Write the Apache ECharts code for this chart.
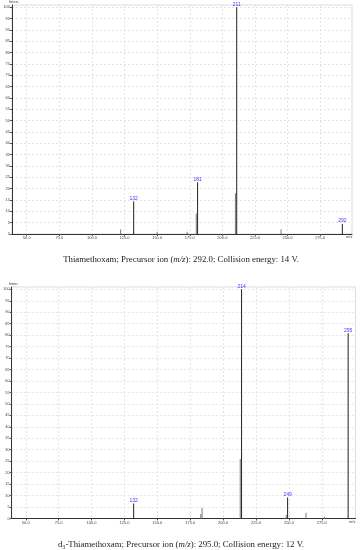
<!DOCTYPE html>
<html>
<head>
<meta charset="utf-8">
<script src="https://cdn.jsdelivr.net/npm/echarts@6/dist/echarts.min.js"></script>
<style>
html,body{margin:0;padding:0;background:#fff;}
#c{width:362px;height:550px;}
</style>
</head>
<body>
<div id="c"></div>
<script>
// Top spectrum: Thiamethoxam
const mzTop = [122, 132, 150, 173, 180, 181, 210, 211, 245, 292];
const intTop = [2, 14.3, 1, 1, 9, 22.8, 18, 100, 2, 4.4];
const labelTop = [132, 181, 211, 292];

// Bottom spectrum: d3-Thiamethoxam
const mzBot = [132, 183, 184, 213, 214, 248, 249, 263, 277, 295];
const intBot = [6.5, 2, 4.6, 26, 100, 1.5, 9.2, 2.5, 0.8, 80.8];
const labelBot = [132, 214, 249, 295];

const xTicks = [50, 75, 100, 125, 150, 175, 200, 225, 250, 275];
const yTicks = [0,5,10,15,20,25,30,35,40,45,50,55,60,65,70,75,80,85,90,95,100];

const captionTop = ['Thiamethoxam; Precursor ion (', 'm/z', '): 292.0; Collision energy: 14 V.'];
const captionBot = ['d₃-Thiamethoxam; Precursor ion (', 'm/z', '): 295.0; Collision energy: 12 V.'];

function buildData(mz, it, labs) {
  return mz.map((m, i) => ({
    value: [m, it[i]],
    label: { show: labs.indexOf(m) >= 0 },
    itemStyle: { color: labs.indexOf(m) >= 0 ? '#222' : '#777' }
  }));
}

const chart = echarts.init(document.getElementById('c'), null, {renderer: 'canvas'});

function xAxisCfg(gi, min, max) {
  return {
    type: 'value', gridIndex: gi, min: min, max: max,
    axisLine: { show: true, onZero: false, lineStyle: { color: '#333', width: 1 } },
    axisTick: { show: true, customValues: xTicks, length: 2, lineStyle: { color: '#555' } },
    axisLabel: { customValues: xTicks, fontSize: 4, color: '#444', margin: 2,
      formatter: v => v.toFixed(1) },
    splitLine: { show: true, lineStyle: { color: '#d4d4d4', type: [2, 2], width: 0.6 } }
  };
}
function yAxisCfg(gi) {
  return {
    type: 'value', gridIndex: gi, min: 0, max: 101,
    name: 'Inten.', nameLocation: 'end', nameGap: 1,
    nameTextStyle: { fontSize: 4, color: '#444', align: 'left', padding: [0,0,0,-3] },
    axisLine: { show: true, lineStyle: { color: '#333', width: 1 } },
    axisTick: { show: true, customValues: yTicks, length: 2, lineStyle: { color: '#555' } },
    axisLabel: { customValues: yTicks, fontSize: 4, color: '#444', margin: 2 },
    splitLine: { show: true, lineStyle: { color: '#d4d4d4', type: [2, 2], width: 0.6 } }
  };
}
function seriesCfg(gi, data) {
  return {
    type: 'bar', xAxisIndex: gi, yAxisIndex: gi, data: data,
    barWidth: 1, barGap: 0,
    itemStyle: { color: '#333' },
    label: { position: 'top', distance: 0.5, fontSize: 5, color: '#3c3cff',
      fontFamily: 'Liberation Sans', formatter: p => String(p.value[0]) },
    silent: true, animation: false
  };
}
function caption(parts, top) {
  return {
    left: 'center', top: top,
    text: '{a|' + parts[0] + '}{i|' + parts[1] + '}{a|' + parts[2] + '}',
    textStyle: {
      fontWeight: 'normal',
      rich: {
        a: { fontFamily: 'Liberation Serif', fontSize: 8.8, fontWeight: 'normal', color: '#222' },
        i: { fontFamily: 'Liberation Serif', fontSize: 8.8, fontWeight: 'normal', fontStyle: 'italic', color: '#222' }
      }
    },
    padding: 0
  };
}

chart.setOption({
  animation: false,
  backgroundColor: '#fff',
  title: [caption(captionTop, 255), caption(captionBot, 540)],
  grid: [
    { left: 12, right: 10, top: 5, height: 229, show: true, borderColor: '#ddd', borderWidth: 1, backgroundColor: 'transparent' },
    { left: 10, right: 6.5, top: 287, height: 231.5, show: true, borderColor: '#ddd', borderWidth: 1, backgroundColor: 'transparent' }
  ],
  xAxis: [xAxisCfg(0, 38.7, 299.4), xAxisCfg(1, 39.3, 300.6)],
  yAxis: [yAxisCfg(0), yAxisCfg(1)],
  series: [seriesCfg(0, buildData(mzTop, intTop, labelTop)), seriesCfg(1, buildData(mzBot, intBot, labelBot))],
  graphic: [
    { type: 'text', left: 346, top: 235, style: { text: 'm/z', fontSize: 4, fill: '#444' } },
    { type: 'text', left: 349, top: 520, style: { text: 'm/z', fontSize: 4, fill: '#444' } }
  ]
});
</script>
</body>
</html>
